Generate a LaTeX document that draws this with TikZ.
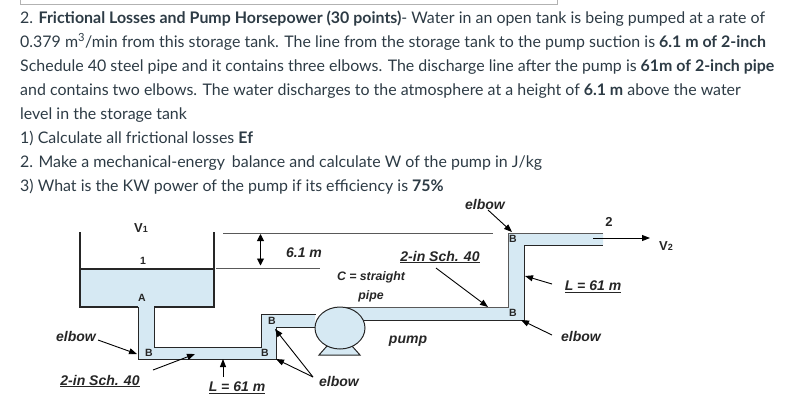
\documentclass[tikz,border=0pt]{standalone}
\usepackage{fontspec}
\setmainfont{Lato}
\setsansfont{Liberation Sans}
\usetikzlibrary{arrows.meta,shapes.geometric}
\definecolor{txt}{HTML}{2D3B45}
\definecolor{water}{HTML}{D6E9F3}
\newcommand{\ulbl}[1]{\underline{#1}}
\tikzset{
 x=1pt,y=-1pt,
 prose/.style={anchor=base west,inner sep=0pt,text=txt,font=\fontsize{15.95}{18}\selectfont},
 lbl/.style={inner sep=0pt,font=\sffamily\bfseries\itshape\fontsize{14}{16}\selectfont,text=black!85},
 small lbl/.style={lbl,font=\sffamily\bfseries\itshape\fontsize{12.3}{14}\selectfont},
 tag/.style={inner sep=0pt,font=\sffamily\bfseries\fontsize{10.5}{12}\selectfont,text=black!85},
 big tag/.style={tag,font=\sffamily\bfseries\fontsize{13}{15}\selectfont},
 ptr/.style={draw=black,line width=0.9pt,-{Triangle[length=8pt,width=6pt]}},
 dim/.style={draw=black!65,line width=0.9pt},
 wall/.style={draw=black!85,line width=1pt},
}
\begin{document}
\begin{tikzpicture}
\useasboundingbox (0,0) rectangle (805,408);
\draw[black!30,line width=0.8pt] (20.5,0) -- (20.5,4) -- (557,4) -- (557,0);
% prose
\node[prose] (t1) at (20,23.5) {2. \textbf{Frictional Losses and Pump Horsepower (30 points)}- Water in an open tank is being pumped at a rate of};
\node[prose] (t2) at (20,47.5) {0.379 m\textsuperscript{3}/min from this storage tank. The line from the storage tank to the pump suction is \textbf{6.1 m of 2-inch}};
\node[prose] (t3) at (20,71.5) {Schedule 40 steel pipe and it contains three elbows. The discharge line after the pump is \textbf{61m of 2-inch pipe}};
\node[prose] (t4) at (20,95.5) {and contains two elbows. The water discharges to the atmosphere at a height of \textbf{6.1 m} above the water};
\node[prose] (t5) at (20,119.5) {level in the storage tank};
\node[prose] (t6) at (20,143.5) {1) Calculate all frictional losses \textbf{Ef}};
\node[prose] (t7) at (20,167.5) {2. Make a mechanical-energy\, balance and calculate W of the pump in J/kg};
\node[prose] (t8) at (20,191.5) {3) What is the KW power of the pump if its efficiency is \textbf{75\%}};
% water and suction pipe
\fill[water] (80,269) rectangle (214,307);
\fill[water] (138,307) -- (154,307) -- (154,347) -- (261,347) -- (261,314) -- (315,314) -- (315,327) -- (276,327) -- (276,359) -- (138,359) -- cycle;
\draw[wall,line width=1.8pt] (80,232) -- (80,307) -- (138,307);
\draw[wall,line width=1.8pt] (154,307) -- (214,307) -- (214,232);
\draw[wall,line width=1.4pt] (80,269) -- (214,269);
\draw[wall] (138,307) -- (138,359) -- (276,359) -- (276,327) -- (316,327);
\draw[wall] (154,307) -- (154,347) -- (261,347) -- (261,314) -- (316,314);
% discharge pipe
\fill[water] (340,307) -- (508,307) -- (508,233) -- (603,233) -- (603,245) -- (524,245) -- (524,320) -- (340,320) -- cycle;
\draw[wall] (362,320) -- (524,320) -- (524,245) -- (603,245);
\draw[wall,draw=black!65] (340,307) -- (508,307) -- (508,233) -- (603,233);
% pump
\draw[wall,fill=water] (319,355) -- (327,346) -- (352,346) -- (360,355) -- cycle;
\node[draw=black!85,line width=1pt,fill=water,ellipse,minimum width=50pt,minimum height=42pt,inner sep=0pt] (pumpbody) at (340,328) {};
% level lines
\coordinate (la) at (223,233.5); \coordinate (lb) at (493,233.5);
\coordinate (lc) at (216,268); \coordinate (ld) at (320,268);
\draw[dim] (la) -- (lb);
\draw[dim] (lc) -- (ld);
\coordinate (da) at (260.5,234); \coordinate (db) at (260.5,265.5);
\draw[draw=black,line width=0.9pt,{Triangle[length=7pt,width=7pt]}-{Triangle[length=7pt,width=7pt]}] (da) -- (db);
% labels
\node[big tag] (v1) at (141,228) {V{\fontsize{9}{10}\selectfont 1}};
\node[tag] (n1) at (143,261) {1};
\node[tag] (na) at (142,298) {A};
\node[tag] (b1) at (149,353) {B};
\node[tag] (b2) at (265,353) {B};
\node[tag] (b3) at (272,321) {B};
\node[tag] (b4) at (513,239) {B};
\node[tag] (b5) at (513,313) {B};
\node[big tag] (n2) at (609,222) {2};
\node[big tag] (v2) at (666,246) {V{\fontsize{9}{10}\selectfont 2}};
\node[lbl] (h) at (304,253) {6.1 m};
\node[lbl] (e1) at (76,336) {elbow};
\node[lbl] (s1) at (100,381) {\ulbl{2-in Sch. 40}};
\node[lbl] (l1) at (237,388) {\ulbl{L = 61 m}};
\node[lbl] (e2) at (339,381) {elbow};
\node[lbl] (pu) at (408,341) {pump};
\node[small lbl] (c1) at (371,277) {C = straight};
\node[small lbl] (c2) at (371,296) {pipe};
\node[lbl] (s2) at (440,257) {\ulbl{2-in Sch. 40}};
\node[lbl] (e3) at (485,204) {elbow};
\node[lbl] (l2) at (593,287) {\ulbl{L = 61 m}};
\node[lbl] (e4) at (581,336) {elbow};
% pointers
\coordinate (a1s) at (98,340); \coordinate (a1e) at (137,354);
\coordinate (a2s) at (153,370); \coordinate (a2e) at (195,354);
\coordinate (a3s) at (223,377); \coordinate (a3e) at (223,359);
\coordinate (a4s) at (313,377); \coordinate (a4e) at (276,359); \coordinate (a5e) at (275,329);
\coordinate (a6s) at (436,268); \coordinate (a6e) at (488,307);
\coordinate (a7s) at (488,210); \coordinate (a7e) at (512,232);
\coordinate (a8s) at (552,284); \coordinate (a8e) at (525,276);
\coordinate (a9s) at (552,335); \coordinate (a9e) at (521,320);
\coordinate (a0s) at (593,238); \coordinate (a0e) at (650,238);
\draw[ptr] (a1s) -- (a1e);
\draw[ptr] (a2s) -- (a2e);
\draw[ptr] (a3s) -- (a3e);
\draw[ptr] (a4s) -- (a4e);
\draw[ptr] (a4s) -- (a5e);
\draw[ptr] (a6s) -- (a6e);
\draw[ptr] (a7s) -- (a7e);
\draw[ptr] (a8s) -- (a8e);
\draw[ptr] (a9s) -- (a9e);
\draw[ptr] (a0s) -- (a0e);
\end{tikzpicture}
\end{document}
